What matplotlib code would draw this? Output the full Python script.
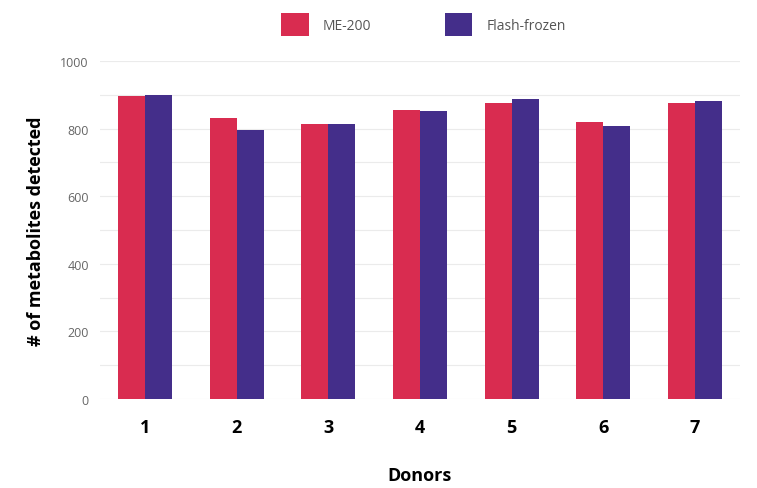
import matplotlib
matplotlib.use("Agg")
import matplotlib.pyplot as plt
from matplotlib.patches import Patch
from matplotlib.ticker import MultipleLocator
import numpy as np

plt.rcParams['font.family'] = ['Open Sans', 'DejaVu Sans']

donors = ['1', '2', '3', '4', '5', '6', '7']
me200 = [896, 831, 813, 856, 877, 820, 877]
flash = [899, 795, 815, 852, 887, 808, 882]
series_names = ['ME-200', 'Flash-frozen']
colors = ['#D92C50', '#442E8A']

fig = plt.figure(figsize=(7.57, 4.89), dpi=100)
ax = fig.add_axes([0.1321, 0.182, 0.8454, 0.691])

x = np.arange(len(donors))
w = 0.295
ax.bar(x - w/2, me200, width=w, color=colors[0], zorder=3)
ax.bar(x + w/2, flash, width=w, color=colors[1], zorder=3)

ax.set_xlim(-0.49, len(donors) - 0.51)
ax.set_ylim(0, 1000)
ax.yaxis.set_major_locator(MultipleLocator(200))
ax.yaxis.set_minor_locator(MultipleLocator(100))
ax.grid(axis='y', which='both', color='#EBEBEB', linewidth=0.8, zorder=0)
for s in ax.spines.values():
    s.set_visible(False)
ax.tick_params(axis='y', which='both', length=0, labelsize=9, labelcolor='#666666', pad=8)
ax.tick_params(axis='x', length=0, labelsize=13, pad=14)
ax.set_xticks(x)
ax.set_xticklabels(donors, fontweight='bold', color='black')

ax.set_xlabel('Donors', fontsize=13, fontweight='bold', labelpad=21)
ax.set_ylabel('# of metabolites detected', fontsize=13, fontweight='bold', labelpad=11)

handles = [Patch(facecolor=c) for c in colors]
fig.legend(handles, series_names, loc='center', bbox_to_anchor=(0.559, 0.948), ncol=2,
           frameon=False, fontsize=10, handlelength=2.0, handleheight=2.1,
           handletextpad=1.0, columnspacing=5.3, labelcolor='#555555')

fig.savefig('out.png', dpi=100)
